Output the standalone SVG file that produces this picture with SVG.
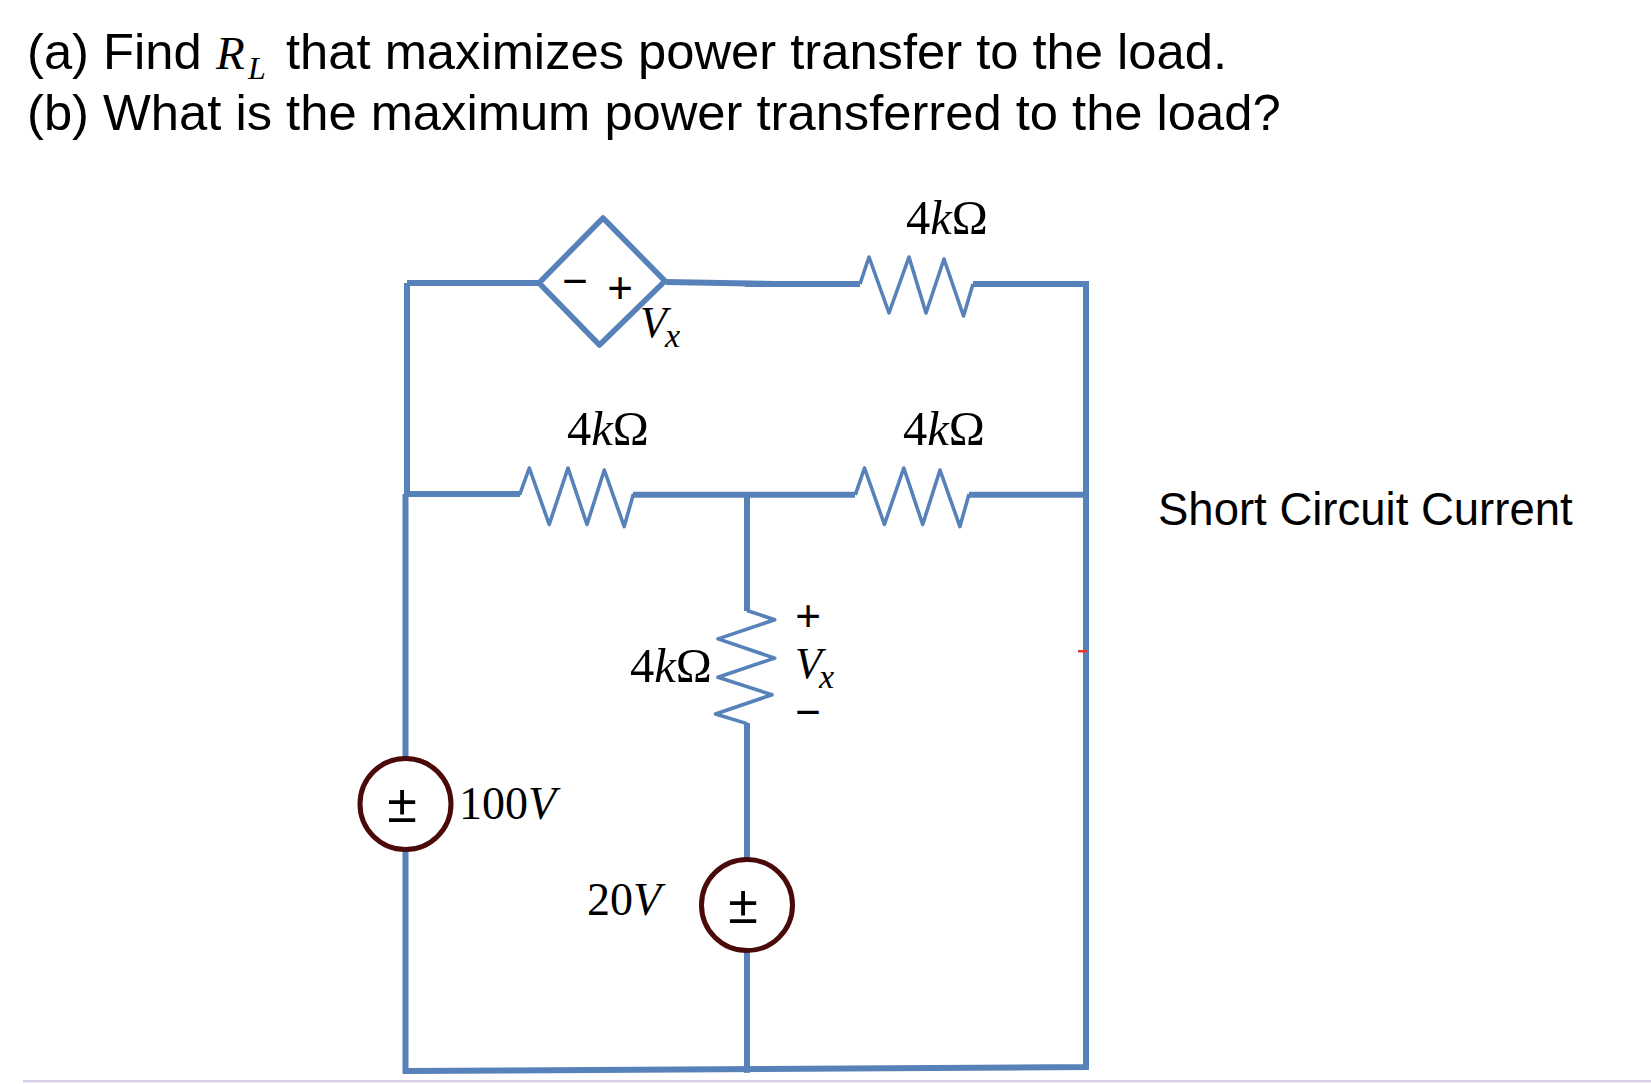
<svg xmlns="http://www.w3.org/2000/svg" width="1651" height="1084" viewBox="0 0 1651 1084">
<style>
.w{fill:none;stroke:#5781b9;stroke-width:6}
.r{fill:none;stroke:#5781b9;stroke-width:3.6;stroke-linejoin:round}
.d{fill:#fff;stroke:#5781b9;stroke-width:5.5;stroke-linejoin:round}
.s{fill:#fff;stroke:#4a0a0a;stroke-width:5}
.h{font-family:"Liberation Sans",Arial,sans-serif;font-size:50.700px;fill:#000}
.m{font-family:"Liberation Serif","Times New Roman",serif;font-size:48.500px;fill:#000}
.n{font-size:46px}
.v{font-size:44px}
.i{font-style:italic}
.sub{font-size:34px}
.p{font-family:"Liberation Sans",Arial,sans-serif;font-size:44px;fill:#000;text-anchor:middle}
.pm{font-size:54px}
</style>
<rect width="1651" height="1084" fill="#fff"/>
<g id="connectors">
<path class="w" d="M407 283H539M666 282L776 284M745 284H860M973 284H1086V1067L405 1071M405.500 494V1074M407 283V494M405 494H520M633 494.800H855M969 494.800H1086M747 494.800V611M747 723V1073"/>
</g>
<g id="title">
<text class="h" x="27" y="69">(a) Find</text>
<text class="m i" x="216" y="69" style="font-size:47px">R</text>
<text class="m i" x="248" y="79" style="font-size:32px">L</text>
<text class="h" x="286" y="69">that maximizes power transfer to the load.</text>
<text class="h" x="27" y="130">(b) What is the maximum power transferred to the load?</text>
</g>
<g id="source-dep">
<path class="d" d="M603 218L665 281L599.500 345L539 283Z"/>
<text class="p" x="575" y="296">−</text>
<text class="p" x="620" y="303">+</text>
<text class="m i v" x="640" y="337">V</text>
<text class="m i sub" x="665" y="347">x</text>
</g>
<g id="r-top">
<path class="r" d="M860 284L869 257L889 313L909 257L926 313L944 259L963.500 316L973 284"/>
<text class="m" x="906" y="234">4<tspan class="i">k</tspan>Ω</text>
</g>
<g id="r-left">
<path class="r" d="M519.600 494.800L529.300 468L549.200 524.500L568 468L587 524.500L604.300 470L624.200 526.600L633.400 494"/>
<text class="m" x="567" y="445">4<tspan class="i">k</tspan>Ω</text>
</g>
<g id="r-right">
<path class="r" d="M855.300 494.800L864.500 468L884.400 524.500L903.800 468L922.700 524.500L940 470L959.900 526.600L969.100 494"/>
<text class="m" x="903" y="445">4<tspan class="i">k</tspan>Ω</text>
</g>
<g id="r-mid">
<path class="r" d="M747 610.500L774.700 619.700L718 638.900L774.700 658.100L718 677.300L772 694.800L715.500 714L747 723.600"/>
<text class="m" x="630" y="682">4<tspan class="i">k</tspan>Ω</text>
<text class="p" x="808" y="631">+</text>
<text class="m i v" x="795" y="678">V</text>
<text class="m i sub" x="819" y="688">x</text>
<text class="p" x="808" y="727">−</text>
</g>
<g id="source-100">
<circle class="s" cx="405.500" cy="804" r="45.500"/>
<text class="p pm" x="402" y="822">±</text>
<text class="m n" x="459" y="819">100<tspan class="i">V</tspan></text>
</g>
<g id="source-20">
<circle class="s" cx="747" cy="905" r="45.500"/>
<text class="p pm" x="743" y="923">±</text>
<text class="m n" x="587" y="915">20<tspan class="i">V</tspan></text>
</g>
<text class="h" x="1158" y="525" style="font-size:45.500px">Short Circuit Current</text>
<rect x="1078" y="650" width="9" height="2.500" fill="#e8372c"/>
<rect x="23" y="1080" width="1628" height="2.500" fill="#d9cfe6"/>
</svg>
